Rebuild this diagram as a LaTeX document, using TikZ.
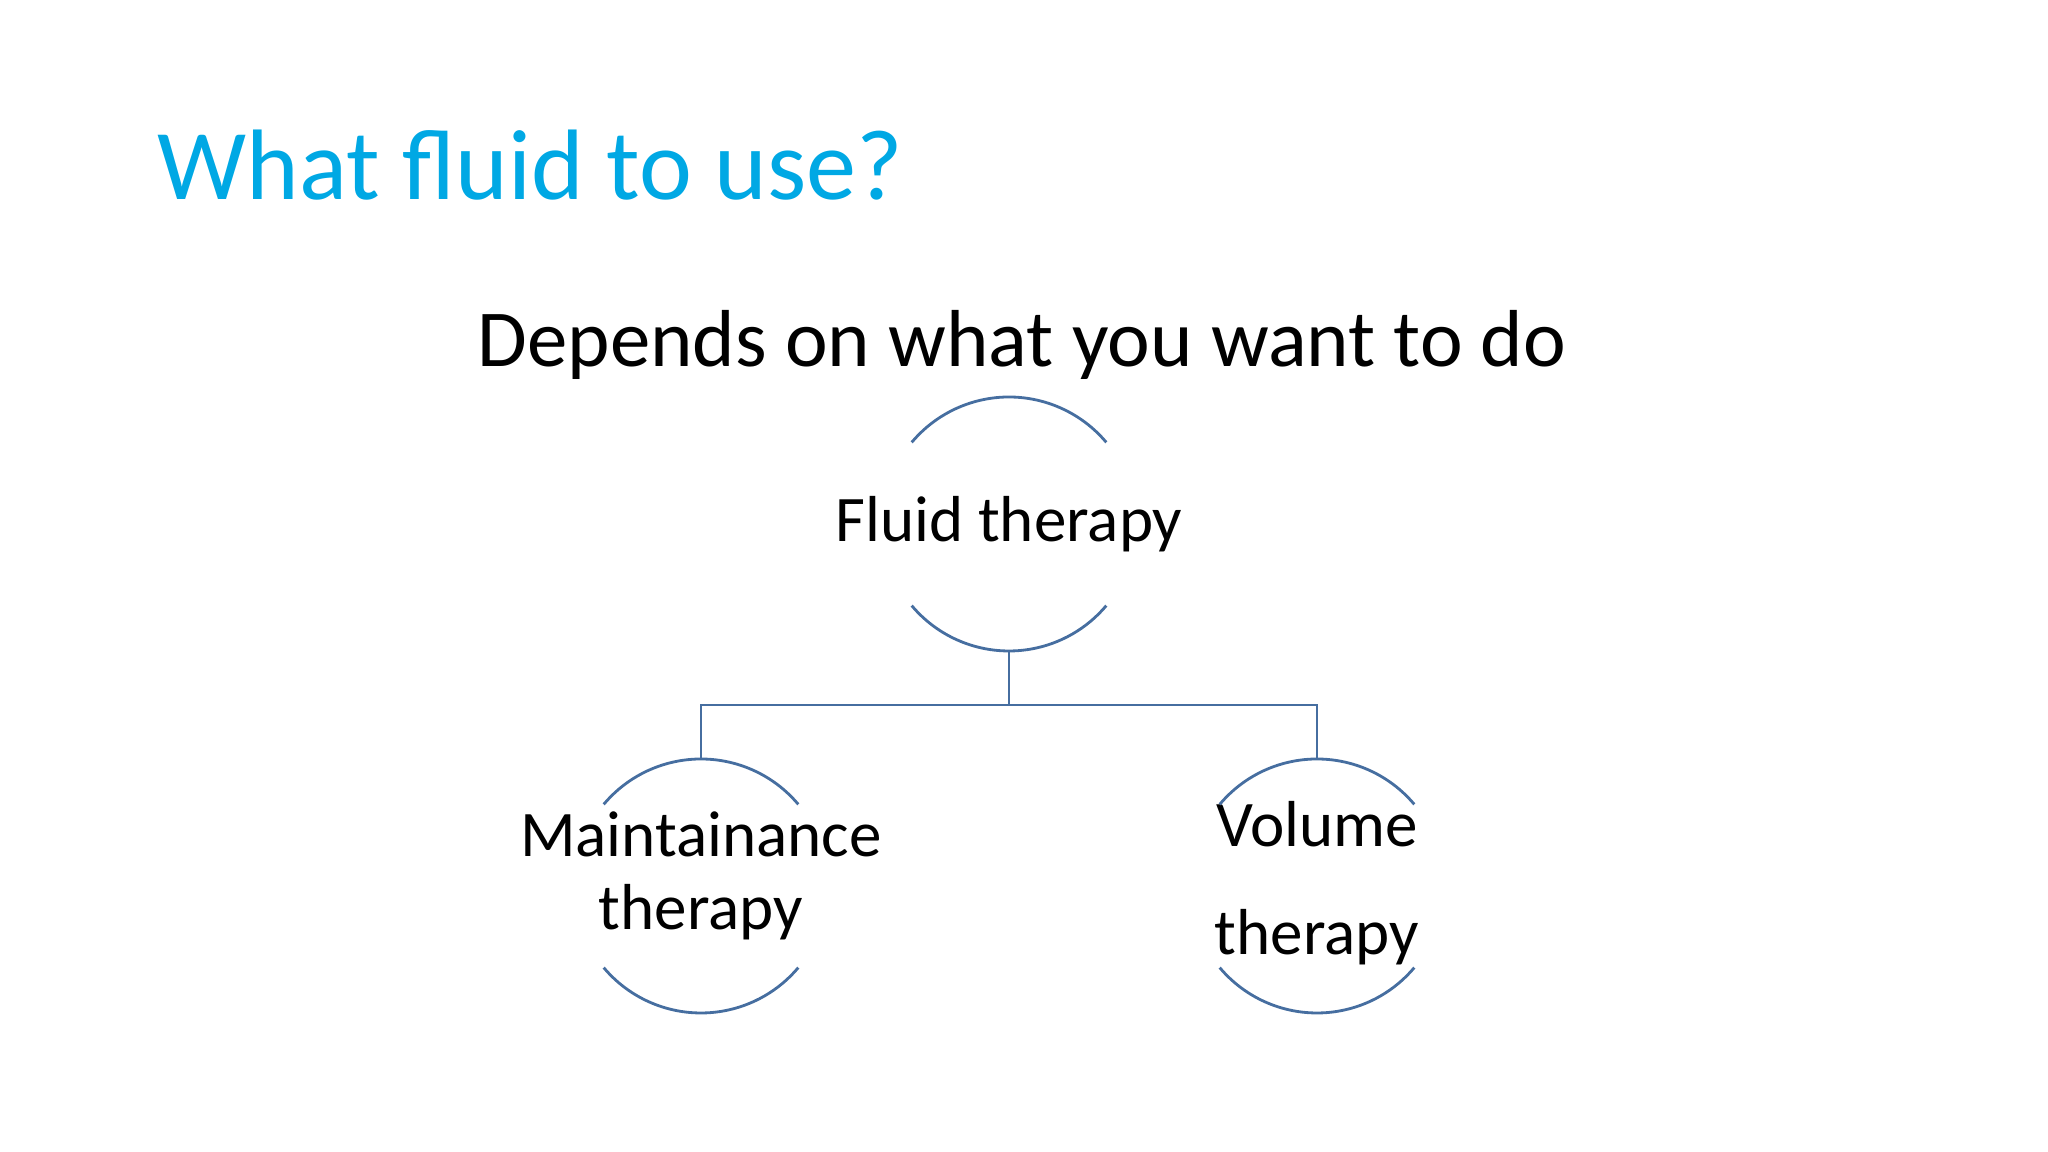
\documentclass[tikz,border=0pt]{standalone}
\usepackage{fontspec}
\usetikzlibrary{calc}
\setmainfont{Carlito}
\definecolor{titleblue}{RGB}{0,168,228}
\definecolor{arcblue}{RGB}{70,110,160}
\begin{document}
\begin{tikzpicture}
\useasboundingbox (0,0) rectangle (20.48,11.52);
\tikzset{lbl/.style={font=\fontsize{18.5}{23}\selectfont, align=center, inner sep=0pt},
  arc/.style={draw=arcblue, line width=0.8pt}}
\node[anchor=base west, text=titleblue, font=\fontsize{28.5}{34}\selectfont, inner sep=0pt] (title) at (1.57,9.52) {What fluid to use?};
\node[anchor=base, font=\fontsize{23}{28}\selectfont, inner sep=0pt] (sub) at (10.22,7.85) {Depends on what you want to do};
\coordinate (ct) at (10.09,6.28);
\coordinate (cl) at (7.01,2.66);
\coordinate (cr) at (13.17,2.66);
\node[lbl] (ft) at (ct) {Fluid therapy};
\node[lbl] (mt) at (7.01,2.76) {Maintainance\\[-0.08cm]therapy};
\node[lbl, font=\fontsize{18.5}{25.5}\selectfont] (vt) at (13.17,2.69) {Volume\\[0.18cm]therapy};
\foreach \c in {ct,cl,cr}{
  \draw[arc] ($(\c)+(40:1.27)$) arc (40:140:1.27);
  \draw[arc] ($(\c)+(220:1.27)$) arc (220:320:1.27);
}
\coordinate (tb) at ($(ct)+(0,-1.27)$);
\coordinate (lt) at ($(cl)+(0,1.27)$);
\coordinate (rt) at ($(cr)+(0,1.27)$);
\draw[arc] (tb) -- ++(0,-0.54) -| (lt);
\draw[arc] (tb) ++(0,-0.54) -| (rt);
\end{tikzpicture}
\end{document}
